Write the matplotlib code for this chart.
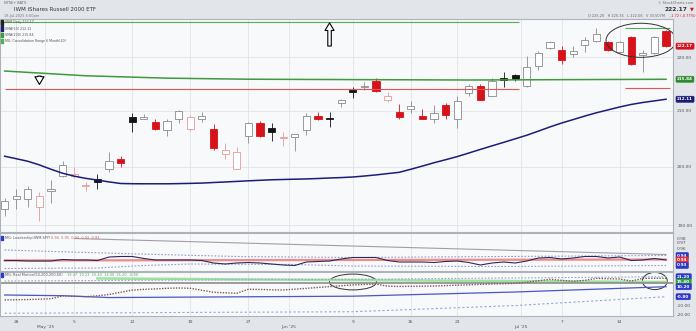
import numpy as np
import pandas as pd
import matplotlib.pyplot as plt
from matplotlib.patches import Ellipse, Rectangle
from matplotlib.ticker import FixedLocator, NullLocator, FormatStrFormatter

# trading days shown on the chart
days = pd.bdate_range("2025-04-25", "2025-07-18")
days = days.drop(pd.to_datetime(["2025-05-26", "2025-06-19", "2025-07-04"]))

# IWM daily candles
opens = [192.8, 194.5, 194.5, 193.1, 195.7, 198.4, 198.4, 196.6, 197.9, 199.6,
         201.4, 208.8, 208.5, 208.0, 206.5, 208.4, 206.7, 208.5, 206.7, 202.2,
         199.6, 205.5, 207.8, 206.9, 205.1, 205.3, 206.5, 209.1, 208.7, 211.4,
         213.8, 214.4, 215.6, 212.0, 209.8, 210.3, 209.0, 208.5, 211.0, 208.5,
         213.2, 214.6, 212.8, 216.1, 216.7, 214.5, 218.3, 221.9, 221.5, 220.6,
         222.3, 223.2, 222.9, 221.0, 223.9, 220.4, 220.9, 225.20]
highs = [194.6, 196.2, 196.7, 195.6, 197.6, 201.0, 200.0, 197.3, 198.7, 202.5,
         201.9, 209.6, 209.4, 208.4, 208.4, 210.2, 209.3, 209.7, 207.5, 204.1,
         203.4, 207.9, 208.1, 207.8, 206.1, 205.8, 209.6, 209.7, 209.7, 212.2,
         214.3, 215.3, 216.0, 213.4, 211.3, 211.8, 210.3, 211.1, 211.5, 212.7,
         214.9, 214.9, 216.0, 217.3, 216.9, 220.2, 221.2, 223.1, 222.2, 222.2,
         224.0, 225.7, 223.2, 223.2, 224.2, 221.5, 224.1, 225.35]
lows = [191.6, 192.7, 193.0, 190.8, 193.7, 198.2, 198.0, 195.7, 196.2, 199.0,
        200.0, 206.1, 208.4, 206.5, 205.5, 207.8, 206.3, 207.9, 202.9, 201.4,
        199.5, 204.1, 205.3, 204.6, 203.6, 202.8, 205.6, 208.3, 207.0, 210.7,
        212.4, 213.8, 213.4, 211.6, 208.4, 209.6, 208.4, 207.8, 208.5, 206.9,
        212.7, 211.9, 212.7, 214.3, 215.6, 214.3, 217.5, 221.7, 218.7, 220.0,
        221.0, 222.9, 221.3, 220.8, 218.6, 217.2, 220.6, 222.06]
closes = [194.1, 195.0, 196.2, 195.0, 196.2, 200.3, 198.7, 196.8, 197.3, 201.0,
          200.7, 207.9, 208.9, 206.7, 208.2, 209.9, 208.9, 209.0, 203.2, 203.0,
          202.5, 207.8, 205.5, 206.2, 205.3, 205.7, 209.0, 208.4, 208.5, 211.9,
          213.4, 214.6, 213.6, 212.8, 208.8, 210.8, 208.5, 209.6, 209.3, 211.8,
          214.5, 212.0, 215.6, 215.7, 215.8, 218.1, 220.9, 222.9, 219.5, 221.2,
          223.4, 224.6, 221.5, 222.9, 218.8, 220.9, 223.89, 222.17]

sma50 = [201.82, 201.38, 200.93, 200.29, 199.53, 198.84, 198.34, 197.95, 197.66, 197.34,
         197.07, 197.03, 197.02, 197.02, 197.02, 197.05, 197.09, 197.14, 197.24, 197.33,
         197.43, 197.53, 197.62, 197.71, 197.76, 197.81, 197.86, 197.93, 198.02, 198.09,
         198.19, 198.36, 198.55, 198.78, 199.00, 199.53, 200.09, 200.67, 201.20, 201.75,
         202.38, 203.02, 203.65, 204.27, 204.91, 205.55, 206.29, 207.05, 207.75, 208.38,
         209.02, 209.62, 210.15, 210.68, 211.15, 211.51, 211.81, 212.11]
sma200_days = ["2025-04-25", "2025-05-06", "2025-05-15", "2025-05-27", "2025-06-24", "2025-07-18"]
sma200 = [217.4, 216.5, 216.05, 215.85, 215.7, 215.84]

# consolidation range lines
range_from = ["2025-04-25", "2025-07-15"]
range_to = ["2025-06-30", "2025-07-18"]
range_hi = [227.0, 225.8]
range_lo = [214.0, 214.15]

# MG: Leadership(IWM,SPY)
lead = [0.935, 0.935, 0.934, 0.934, 0.934, 0.937, 0.936, 0.936, 0.935, 0.942,
        0.943, 0.943, 0.939, 0.936, 0.936, 0.936, 0.936, 0.935, 0.930, 0.928,
        0.930, 0.931, 0.930, 0.928, 0.926, 0.925, 0.932, 0.933, 0.934, 0.938,
        0.941, 0.941, 0.941, 0.935, 0.932, 0.932, 0.932, 0.931, 0.933, 0.934,
        0.931, 0.926, 0.930, 0.932, 0.930, 0.934, 0.940, 0.941, 0.938, 0.940,
        0.943, 0.943, 0.940, 0.942, 0.935, 0.936, 0.939, 0.936]
lead_up_days = ["2025-04-25", "2025-05-09", "2025-05-23", "2025-06-09", "2025-06-27", "2025-07-18"]
lead_up = [0.956, 0.949, 0.943, 0.941, 0.943, 0.945]
lead_lo_days = ["2025-04-25", "2025-05-07", "2025-05-13", "2025-05-19", "2025-06-02",
                "2025-06-09", "2025-06-27", "2025-07-18"]
lead_lo = [0.919, 0.920, 0.925, 0.928, 0.927, 0.924, 0.923, 0.925]
lead_ma_days = ["2025-04-25", "2025-07-18"]
lead_ma = [0.935, 0.937]
lead_trend_days = ["2025-05-05", "2025-07-18"]
lead_trend = [0.979, 0.947]

# MG: Real Motion
motion = [-4.3, -4.1, -3.9, -3.5, -3.0, 0.2, -0.2, -0.7, 0.2, 1.7,
          4.1, 6.5, 7.3, 7.8, 8.5, 8.8, 8.5, 6.3, 4.1, 3.5,
          3.0, 7.4, 7.2, 6.8, 6.6, 7.5, 8.4, 9.4, 10.3, 11.3,
          12.2, 12.7, 13.2, 10.8, 10.5, 10.7, 10.8, 11.0, 11.4, 11.9,
          12.3, 12.8, 13.2, 13.5, 13.9, 15.2, 16.8, 18.4, 17.2, 16.2,
          17.2, 19.4, 19.0, 18.7, 16.4, 19.4, 19.5, 19.5]
rm_blue_days = ["2025-04-25", "2025-05-02", "2025-05-08", "2025-06-09", "2025-06-30", "2025-07-18"]
rm_blue = [1.1, 0.3, -1.7, -0.2, 4.4, 10.2]
rm_up_days = ["2025-04-25", "2025-06-09", "2025-07-18"]
rm_up = [16.5, 18.4, 21.2]
rm_lo_days = ["2025-04-25", "2025-06-09", "2025-06-30", "2025-07-18"]
rm_lo = [-19.0, -17.3, -10.5, -0.8]
rm_green_days = ["2025-05-07", "2025-07-18"]
rm_green = [19.3, 15.4]
rm_zero = 14.0


def pos(ds):
    return [days.get_loc(pd.Timestamp(d)) for d in ds]


x = np.arange(len(days))
W, H = 696, 331
fig = plt.figure(figsize=(W / 100, H / 100), dpi=100)
fig.patch.set_facecolor("#e2e5ea")


def px(x0, y0):
    return x0 / W, 1 - y0 / H


def box(top, bottom):
    return [0, 1 - bottom / H, 673 / W, (bottom - top) / H]


ax = fig.add_axes(box(19, 232))
ax1 = fig.add_axes(box(233, 271), sharex=ax)
ax2 = fig.add_axes(box(272, 316), sharex=ax)

# week / month grid
month_first = [i for i in x[1:] if days[i].month != days[i - 1].month]
month_grid = [i - 0.5 for i in month_first]
week_first = [i for i in x[1:] if days[i].weekday() < days[i - 1].weekday()]
week_first = [i for i in week_first if min(abs(i - m) for m in month_grid) >= 2]

for a in (ax, ax1, ax2):
    a.set_facecolor("#f8f9fb")
    for s in a.spines.values():
        s.set_color("#aeb2b9")
        s.set_linewidth(0.8)
    a.yaxis.tick_right()
    a.tick_params(axis="y", length=0, labelsize=3.2, labelcolor="#555555", pad=3)
    a.tick_params(axis="x", length=0, labelbottom=False)
    for g in month_grid + week_first:
        a.axvline(g, color="#e1e3e7", lw=0.6, zorder=0)

ax.set_xlim(-0.4, 57.6)

# candles
o, h, l, c = map(np.array, (opens, highs, lows, closes))
prev = np.r_[o[0], c[:-1]]
up = c >= prev
hollow = c > o
for i in x:
    if hollow[i]:
        ec = "#8a8a8a" if up[i] else "#e39a9a"
        fc = "white"
    else:
        ec = fc = "#141414" if up[i] else "#d8121b"
    ax.vlines(i, l[i], h[i], color=ec, lw=0.6, zorder=2)
    ax.bar(i, max(abs(c[i] - o[i]), 0.12), bottom=min(o[i], c[i]), width=0.62,
           facecolor=fc, edgecolor=ec, lw=0.6, zorder=3)

ax.set_yscale("log")
ax.set_ylim(188.9, 227.5)
ax.yaxis.set_major_locator(FixedLocator([190, 200, 210, 220]))
ax.yaxis.set_minor_locator(NullLocator())
ax.yaxis.set_major_formatter(FormatStrFormatter("%.2f"))
for t in [190, 200, 210, 220]:
    ax.axhline(t, color="#e1e3e7", lw=0.6, zorder=0)

ax.plot(x, sma50, color="#1c1c78", lw=1.1, zorder=4)
ax.plot(pos(sma200_days), sma200, color="#3d9a3d", lw=1.1, zorder=4)
for d0, d1, hi, lo in zip(range_from, range_to, range_hi, range_lo):
    i0, i1 = max(pos([d0])[0] - 0.5, -0.4), pos([d1])[0] + 0.3
    ax.hlines(hi, i0, i1, color="#4caf50", lw=0.8, zorder=4)
    ax.hlines(lo, i0 + 0.4 if i0 < 0 else i0, i1, color="#e25555", lw=0.8, zorder=4)


def tag(a, y, text, color):
    a.annotate(text, xy=(1.006, y), xycoords=("axes fraction", "data"), fontsize=3.0,
               color="white", weight="bold", va="center", ha="left", annotation_clip=False,
               bbox=dict(boxstyle="round,pad=0.25", fc=color, ec=color, lw=0.4))


tag(ax, closes[-1], "%.2f" % closes[-1], "#d8121b")
tag(ax, sma200[-1], "%.2f" % sma200[-1], "#2e8b2e")
tag(ax, sma50[-1], "%.2f" % sma50[-1], "#1c1c78")

ax.add_patch(Ellipse((0.9525, 0.90), 0.104, 0.16, transform=ax.transAxes,
                     fill=False, ec="#333333", lw=0.7, zorder=6))
arrow = dict(arrowstyle="simple,head_length=0.55,head_width=0.65,tail_width=0.25",
             fc="white", ec="black", lw=0.8)
ax.annotate("", xy=(3, 0.68), xytext=(3, 0.745), xycoords=("data", "axes fraction"),
            arrowprops=arrow, zorder=7)
ax.annotate("", xy=(28, 0.995), xytext=(28, 0.86), xycoords=("data", "axes fraction"),
            arrowprops=arrow, zorder=7)

# leadership panel
ax1.plot(pos(lead_trend_days), lead_trend, color="#a0a0a0", lw=0.8)
ax1.plot(pos(lead_up_days), lead_up, color="#8f9ccc", lw=0.8, ls=(0, (1.5, 1.5)))
ax1.plot(pos(lead_lo_days), lead_lo, color="#8f9ccc", lw=0.8, ls=(0, (1.5, 1.5)))
ax1.plot(pos(lead_ma_days), lead_ma, color="#f08a8a", lw=1.6)
ax1.plot(x, lead, color="#2a2a55", lw=0.8)
ax1.set_ylim(0.914, 0.990)
ax1.yaxis.set_major_locator(FixedLocator([0.96, 0.97, 0.98]))
ax1.yaxis.set_major_formatter(FormatStrFormatter("%.2f"))
tag(ax1, lead_up[-1], "%.2f" % lead_up[-1], "#2d39c8")
tag(ax1, lead[-1], "%.2f" % lead[-1], "#e0303a")
tag(ax1, lead_lo[-1], "%.2f" % lead_lo[-1], "#2d39c8")

# real motion panel
ax2.plot(pos(rm_green_days), rm_green, color="#9ee29e", lw=1.8)
ax2.axhline(rm_zero, color="#8c8c8c", lw=1.2)
ax2.plot(pos(rm_up_days), rm_up, color="#9aa4c8", lw=0.8, ls=(0, (1.5, 1.5)))
ax2.plot(pos(rm_lo_days), rm_lo, color="#9aa4d8", lw=0.8, ls=(0, (2, 2)))
ax2.plot(pos(rm_blue_days), rm_blue, color="#4a55c8", lw=0.9)
ax2.plot(x, motion, color="#7a5a5a", lw=1.0, ls=(0, (1, 1)))
ax2.set_ylim(-22, 26.4)
ax2.yaxis.set_major_locator(FixedLocator([-20, -10]))
ax2.yaxis.set_major_formatter(FormatStrFormatter("%.2f"))
tag(ax2, rm_up[-1], "%.2f" % rm_up[-1], "#2d39c8")
tag(ax2, rm_green[-1], "%.2f" % rm_green[-1], "#2fa52f")
tag(ax2, rm_blue[-1], "%.2f" % rm_blue[-1], "#2d39c8")
tag(ax2, rm_lo[-1], "%.2f" % rm_lo[-1], "#2d39c8")
ax2.add_patch(Ellipse((0.5245, 0.773), 0.07, 0.36, transform=ax2.transAxes,
                      fill=False, ec="#333333", lw=0.7))
ax2.add_patch(Ellipse((0.973, 0.795), 0.037, 0.39, transform=ax2.transAxes,
                      fill=False, ec="#333333", lw=0.7))

# x labels
for i in week_first:
    ax2.text(i, -0.14, str(days[i].day), transform=ax2.get_xaxis_transform(),
             fontsize=3.2, color="#555555", ha="center", va="center")
for g, i in zip(month_grid, month_first):
    ax2.text(g, -0.26, days[i].strftime("%b '%y"), transform=ax2.get_xaxis_transform(),
             fontsize=3.2, color="#555555", ha="center", va="center")

# header
fig.text(*px(4, 3), "NYSE+ BATS", fontsize=2.5, color="#666666", va="center")
fig.text(*px(14, 9.5), "IWM iShares Russell 2000 ETF", fontsize=4.0, color="#333333", va="center")
fig.text(*px(4, 15.5), "18-Jul-2025 5:00pm", fontsize=2.5, color="#777777", va="center")
fig.text(*px(693, 3), "© StockCharts.com", fontsize=2.5, color="#666666", ha="right", va="center")
fig.text(*px(687, 9.5), "222.17", fontsize=4.2, color="#333333", ha="right", va="center", weight="bold")
fig.text(*px(694, 9.3), "▼", fontsize=3.6, color="#d8121b", ha="right", va="center")
fig.text(*px(665, 16), "O 225.20   H 225.35   L 222.06   V 33.507M", fontsize=2.5,
         color="#666666", ha="right", va="center")
fig.text(*px(695, 16), "-1.72 (-0.77%)", fontsize=2.5, color="#d8121b", ha="right", va="center")

# legends
legend = [("IWM Daily 222.17", "#222222"), ("SMA(50) 212.11", "#1c1c78"),
          ("SMA(200) 215.84", "#3d9a3d"), ("MG: Consolidation Range 6 Month(20)", "#4caf50")]
for k, (txt, col) in enumerate(legend):
    yy = 22.5 + 6.2 * k
    fig.add_artist(Rectangle(px(1, yy + 2.2), 1.5 / W, 4.4 / H, transform=fig.transFigure, color=col))
    fig.text(*px(5, yy), txt, fontsize=2.3, color="#555555", va="center")
fig.add_artist(Rectangle(px(1, 240.2), 1.5 / W, 4.4 / H, transform=fig.transFigure, color="#2d39c8"))
fig.text(*px(5, 238), "MG: Leadership(IWM,SPY)", fontsize=2.5, color="#555555", va="center")
fig.text(*px(51, 238), "0.94  0.95  0.94  0.92  0.93", fontsize=2.5, color="#d06060", va="center")
fig.add_artist(Rectangle(px(1, 277.2), 1.5 / W, 4.4 / H, transform=fig.transFigure, color="#2d39c8"))
fig.text(*px(5, 275), "MG: Real Motion(50,200,200,50)", fontsize=2.5, color="#555555", va="center")
fig.text(*px(67, 275), "19.47  10.23  15.40  14.00  21.20  -0.80", fontsize=2.5, color="#5aaa5a", va="center")

fig.savefig("out.png", dpi=100, facecolor=fig.get_facecolor())
